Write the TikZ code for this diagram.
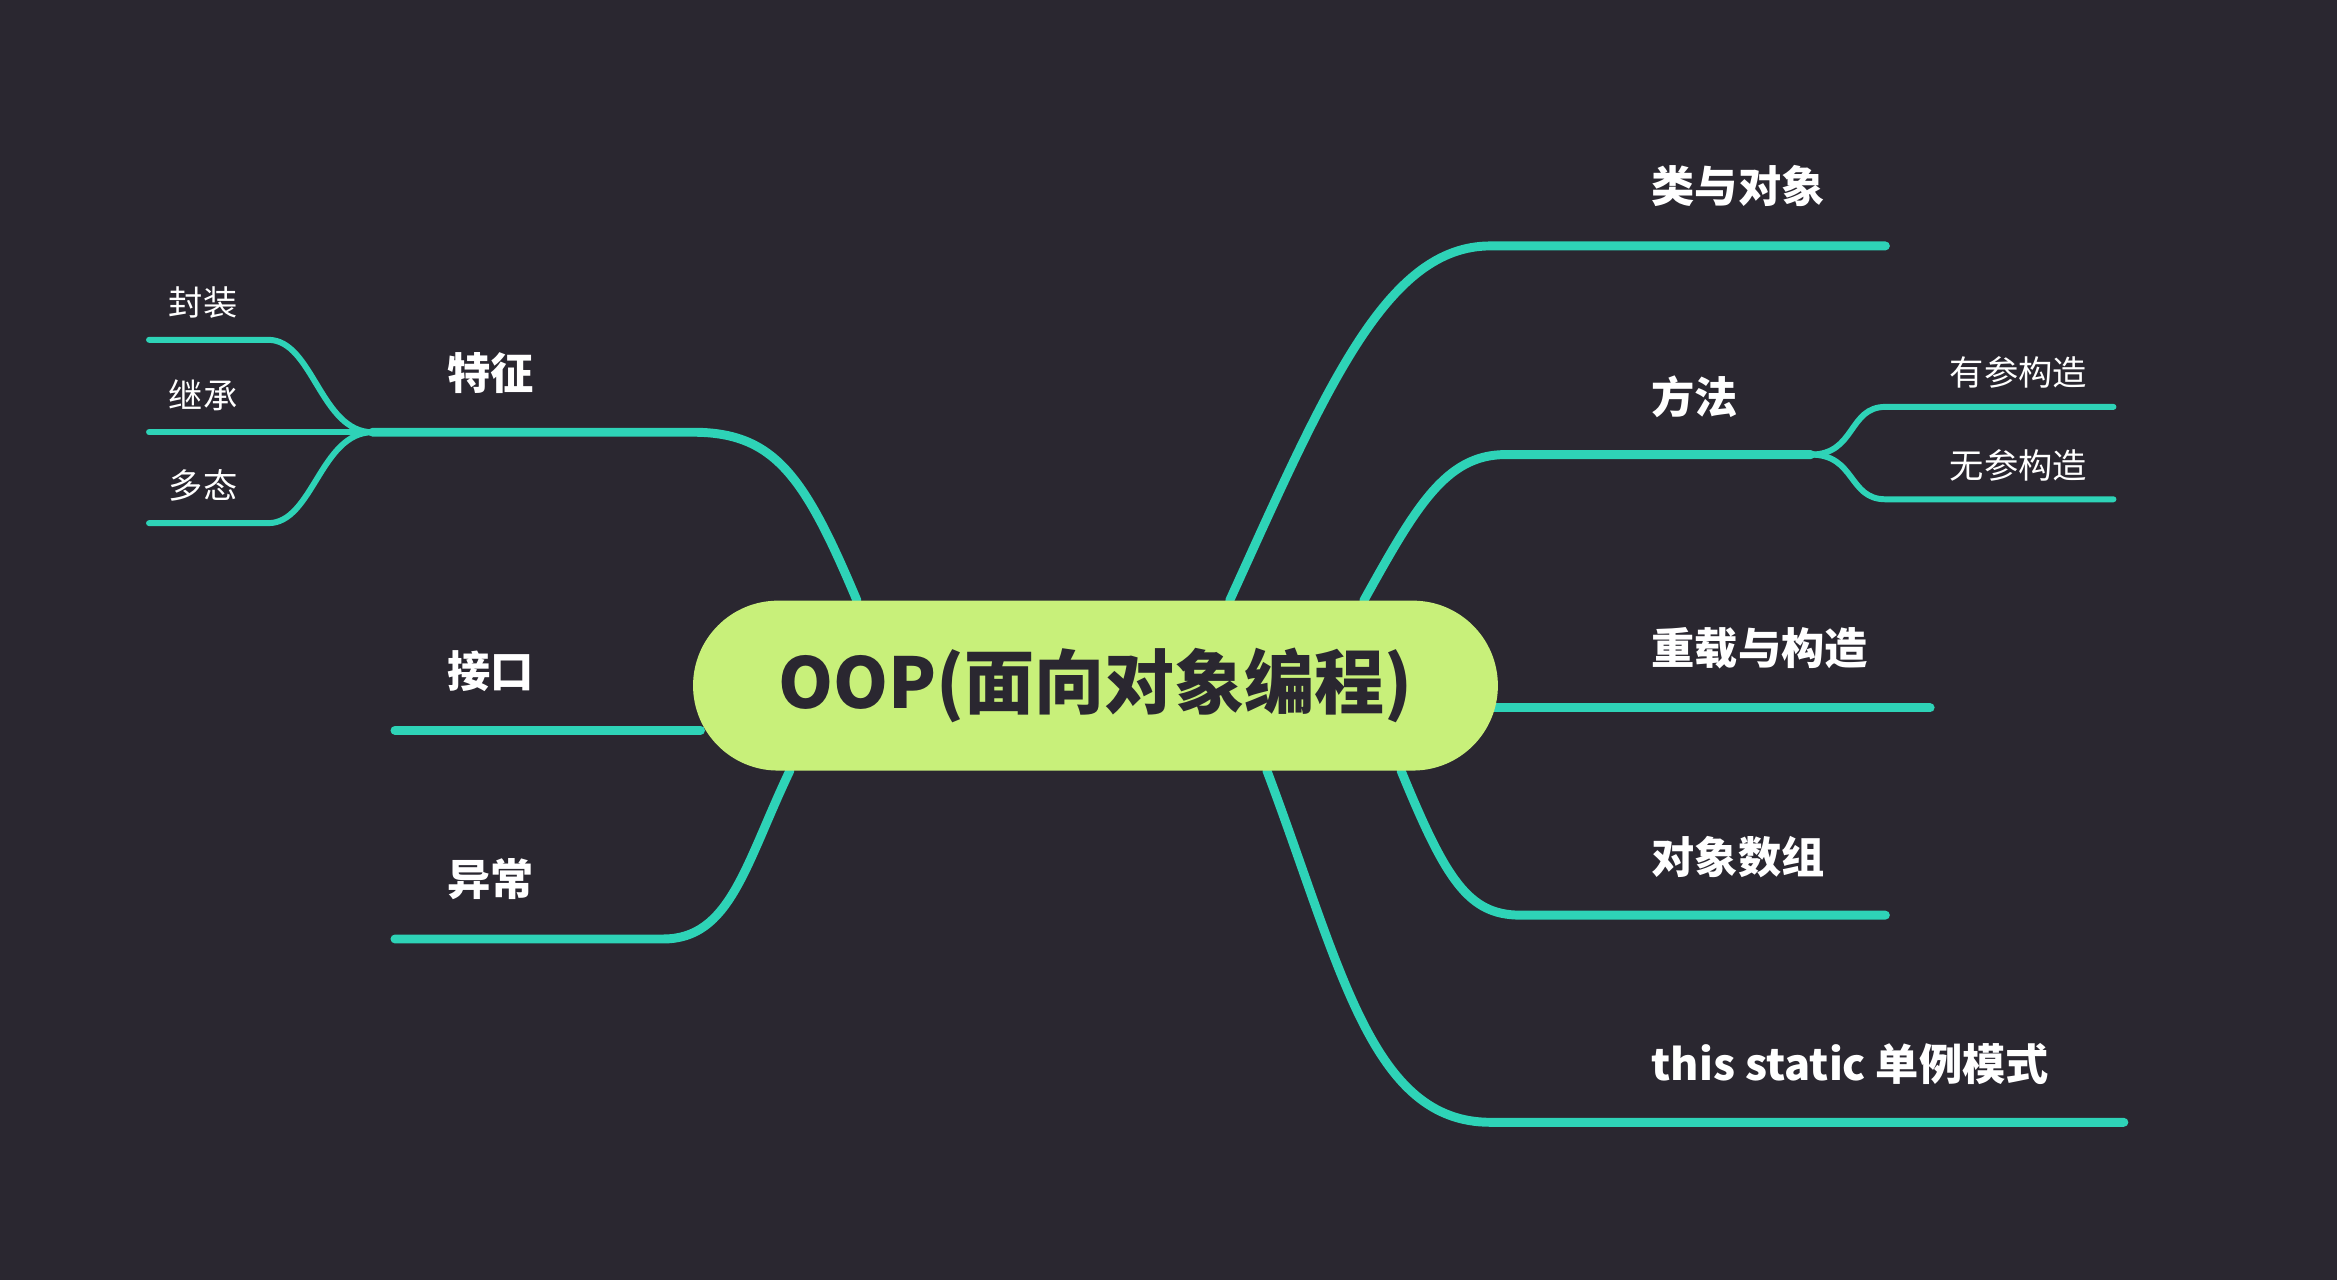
\documentclass[tikz,border=0pt]{standalone}
\usepackage{fontspec}
\newfontfamily\cjk{Noto Sans CJK SC}
\definecolor{bg}{HTML}{2A2730}
\definecolor{teal}{HTML}{2ED3B7}
\definecolor{lime}{HTML}{C8F07A}
\begin{document}
\begin{tikzpicture}[x=1pt,y=-1pt,
  br/.style={teal,line width=6pt,line cap=round},
  sb/.style={teal,line width=4pt,line cap=round},
  lab/.style={anchor=west,text=white,font=\cjk\bfseries\fontsize{29}{33}\selectfont,inner sep=0pt},
  slab/.style={anchor=west,text=white,font=\cjk\fontsize{23}{26}\selectfont,inner sep=0pt}]
\fill[bg] (0,0) rectangle (1568,859);
\useasboundingbox (0,0) rectangle (1568,859);
% coordinates
\coordinate (r1a) at (825,403); \coordinate (r1b) at (1000,165); \coordinate (r1c) at (1265,165);
\coordinate (r2a) at (915,403); \coordinate (r2b) at (1010,305); \coordinate (r2c) at (1215,305);
\coordinate (s1) at (1265,273); \coordinate (s1e) at (1418,273);
\coordinate (s2) at (1265,335); \coordinate (s2e) at (1418,335);
\coordinate (r3a) at (1000,475); \coordinate (r3c) at (1295,475);
\coordinate (r4a) at (940,517); \coordinate (r4b) at (1020,614); \coordinate (r4c) at (1265,614);
\coordinate (r5a) at (850,517); \coordinate (r5b) at (1000,753); \coordinate (r5c) at (1425,753);
\coordinate (l1a) at (575,403); \coordinate (l1b) at (465,290); \coordinate (l1c) at (250,290);
\coordinate (t1) at (180,228); \coordinate (t1e) at (100,228);
\coordinate (t2e) at (100,290);
\coordinate (t3) at (180,351); \coordinate (t3e) at (100,351);
\coordinate (l2a) at (470,490); \coordinate (l2c) at (265,490);
\coordinate (l3a) at (530,517); \coordinate (l3b) at (445,630); \coordinate (l3c) at (265,630);
% branches
\draw[br] (r1a) .. controls (890,260) and (930,165) .. (r1b) -- (r1c);
\draw[br] (r2a) .. controls (950,340) and (970,305) .. (r2b) -- (r2c);
\draw[sb] (r2c) .. controls (1245,305) and (1240,273) .. (s1) -- (s1e);
\draw[sb] (r2c) .. controls (1245,305) and (1240,335) .. (s2) -- (s2e);
\draw[br] (r3a) .. controls (1020,475) .. (1040,475) -- (r3c);
\draw[br] (r4a) .. controls (970,590) and (985,614) .. (r4b) -- (r4c);
\draw[br] (r5a) .. controls (900,650) and (920,753) .. (r5b) -- (r5c);
\draw[br] (l1a) .. controls (540,320) and (520,290) .. (l1b) -- (l1c);
\draw[sb] (l1c) .. controls (215,290) and (210,228) .. (t1) -- (t1e);
\draw[sb] (l1c) -- (t2e);
\draw[sb] (l1c) .. controls (215,290) and (210,351) .. (t3) -- (t3e);
\draw[br] (l2a) -- (l2c);
\draw[br] (l3a) .. controls (500,580) and (490,630) .. (l3b) -- (l3c);
% center
\node[fill=lime,rounded corners=57pt,minimum width=540pt,minimum height=114pt,
  font=\cjk\bfseries\fontsize{47}{52}\selectfont,text=bg] (c) at (735,460) {OOP(面向对象编程)};
% labels
\node[lab] (n1) at (1108,125) {类与对象};
\node[lab] (n2) at (1108,266) {方法};
\node[slab] (n21) at (1308,250) {有参构造};
\node[slab] (n22) at (1308,312) {无参构造};
\node[lab] (n3) at (1108,435) {重载与构造};
\node[lab] (n4) at (1108,575) {对象数组};
\node[lab] (n5) at (1108,714) {this static 单例模式};
\node[lab] (m1) at (300,250) {特征};
\node[slab] (m11) at (113,203) {封装};
\node[slab] (m12) at (113,265) {继承};
\node[slab] (m13) at (113,326) {多态};
\node[lab] (m2) at (300,450) {接口};
\node[lab] (m3) at (300,590) {异常};
\end{tikzpicture}
\end{document}
